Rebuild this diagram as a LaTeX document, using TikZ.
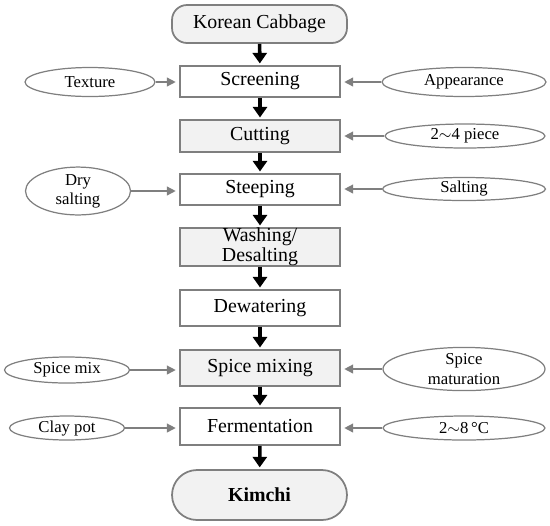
\documentclass[tikz,border=0pt]{standalone}
\usepackage{fontspec}
\setmainfont{Liberation Serif}
\usetikzlibrary{arrows.meta,shapes.geometric}
\definecolor{boxgray}{HTML}{7F7F7F}
\definecolor{boxfill}{HTML}{F2F2F2}
\begin{document}
\begin{tikzpicture}[x=0.02cm,y=-0.02cm,
    stepbox/.style={draw=boxgray, line width=0.9pt, fill=white, minimum width=3.2cm, inner sep=0pt, align=center, font=\fontsize{11.3}{10}\selectfont},
    shadebox/.style={stepbox, fill=boxfill},
    endbox/.style={draw=boxgray, line width=1pt, fill=boxfill, minimum width=3.5cm, inner sep=0pt, font=\fontsize{11.3}{12}\selectfont},
    oval/.style={draw=boxgray, line width=0.7pt, ellipse, inner sep=0pt, align=center, font=\fontsize{9.5}{11}\selectfont},
    flow/.style={-{Triangle[width=8pt,length=6pt]}, line width=2pt, black, shorten >=1pt},
    feed/.style={-{Triangle[width=5pt,length=5pt]}, line width=0.8pt, boxgray, shorten >=2pt}]
        \useasboundingbox (0,0) rectangle (550,525);
        % main steps
        \node [endbox, rounded corners=0.3cm, minimum height=0.76cm] (cab) at (259.5,24) {Korean Cabbage};
        \node [stepbox, minimum height=0.62cm] (scr) at (260,81.5) {Screening};
        \node [shadebox, minimum height=0.64cm] (cut) at (260,136) {Cutting};
        \node [stepbox, minimum height=0.62cm] (stp) at (260,189.5) {Steeping};
        \node [shadebox, minimum height=0.76cm] (wsh) at (260,247) {Washing/\\Desalting};
        \node [stepbox, minimum height=0.72cm] (dew) at (260,308) {Dewatering};
        \node [shadebox, minimum height=0.72cm] (spm) at (260,368) {Spice mixing};
        \node [stepbox, minimum height=0.74cm] (fer) at (260,426.5) {Fermentation};
        \node [endbox, rounded corners=0.5cm, minimum height=1cm, font=\fontsize{11.3}{12}\selectfont\bfseries] (kim) at (259.5,495) {Kimchi};
        % left ovals
        \node [oval, minimum width=2.6cm, minimum height=0.58cm] (tex) at (90,82) {Texture};
        \node [oval, minimum width=2.1cm, minimum height=0.66cm] (dry) at (78,191) {Dry\\salting};
        \node [oval, minimum width=2.5cm, minimum height=0.52cm] (smx) at (67,370) {Spice mix};
        \node [oval, minimum width=2.3cm, minimum height=0.48cm] (clay) at (67,428) {Clay pot};
        % right ovals
        \node [oval, minimum width=3.28cm, minimum height=0.58cm] (app) at (464,82) {Appearance};
        \node [oval, minimum width=3.2cm, minimum height=0.48cm] (pc) at (465,136) {2$\sim$4 piece};
        \node [oval, minimum width=3.26cm, minimum height=0.46cm] (slt) at (464,189) {Salting};
        \node [oval, minimum width=3.24cm, minimum height=0.86cm] (smt) at (464,369) {Spice\\maturation};
        \node [oval, minimum width=3.24cm, minimum height=0.48cm] (tmp) at (464,428) {2$\sim$8\,°C};
        % flow arrows
        \draw [flow] (cab) -- (scr);
        \draw [flow] (scr) -- (cut);
        \draw [flow] (cut) -- (stp);
        \draw [flow] (stp) -- (wsh);
        \draw [flow] (wsh) -- (dew);
        \draw [flow] (dew) -- (spm);
        \draw [flow] (spm) -- (fer);
        \draw [flow] (fer) -- (kim);
        % side arrows
        \draw [feed] (tex) -- (tex -| scr.west);\draw [feed] (app) -- (app -| scr.east);
        \draw [feed] (pc) -- (pc -| cut.east);
        \draw [feed] (dry) -- (dry -| stp.west);\draw [feed] (slt) -- (slt -| stp.east);
        \draw [feed] (smx) -- (smx -| spm.west);\draw [feed] (smt) -- (smt -| spm.east);
        \draw [feed] (clay) -- (clay -| fer.west);\draw [feed] (tmp) -- (tmp -| fer.east);
    \end{tikzpicture}
\end{document}
